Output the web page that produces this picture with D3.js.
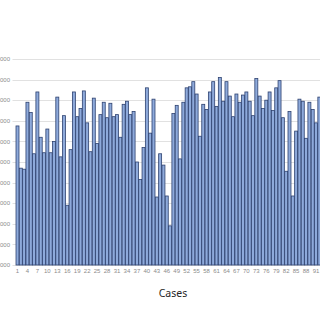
<!DOCTYPE html>
<html>
<head>
<meta charset="utf-8">
<script src="https://cdn.jsdelivr.net/npm/d3@7"></script>
<style>
  html, body { margin: 0; padding: 0; background: #ffffff; overflow: hidden; }
  svg { display: block; }
</style>
</head>
<body>
<svg id="chart" width="320" height="320"></svg>
<script>
// ---- data ----
const cases = d3.range(1, 93);
const values = [
  0.675, 0.47, 0.465, 0.79, 0.74, 0.54, 0.84, 0.62, 0.545, 0.66,
  0.545, 0.60, 0.815, 0.525, 0.725, 0.29, 0.56, 0.84, 0.72, 0.76,
  0.845, 0.69, 0.55, 0.81, 0.59, 0.73, 0.79, 0.715, 0.785, 0.72,
  0.73, 0.62, 0.78, 0.795, 0.73, 0.745, 0.50, 0.415, 0.57, 0.86,
  0.64, 0.805, 0.33, 0.54, 0.485, 0.335, 0.19, 0.735, 0.775, 0.515,
  0.79, 0.86, 0.865, 0.89, 0.83, 0.625, 0.78, 0.755, 0.84, 0.89,
  0.77, 0.91, 0.795, 0.89, 0.82, 0.72, 0.83, 0.79, 0.825, 0.84,
  0.795, 0.725, 0.905, 0.82, 0.76, 0.80, 0.84, 0.75, 0.86, 0.895,
  0.715, 0.455, 0.745, 0.335, 0.65, 0.805, 0.795, 0.615, 0.79, 0.755,
  0.69, 0.815
];
const yTicks = [0, 0.1, 0.2, 0.3, 0.4, 0.5, 0.6, 0.7, 0.8, 0.9, 1.0];
const xTickLabels = cases.filter(c => (c - 1) % 3 === 0);
const axisTitle = "Cases";

// ---- layout ----
const svg = d3.select("#chart");
const step = 3.317;
const x0 = 15.84;
const x = d3.scaleBand()
  .domain(cases)
  .range([x0, x0 + step * cases.length])
  .paddingInner(0.1)
  .paddingOuter(0.05);
const y = d3.scaleLinear().domain([0, 1]).range([265, 59]);

// gridlines
svg.append("g")
  .selectAll("line")
  .data(yTicks)
  .join("line")
  .attr("x1", 12.5)
  .attr("x2", 330)
  .attr("y1", d => Math.round(y(d)) + 0.5)
  .attr("y2", d => Math.round(y(d)) + 0.5)
  .attr("stroke", "#d9d9d9")
  .attr("stroke-width", 0.8);

// y labels
svg.append("g")
  .selectAll("text")
  .data(yTicks)
  .join("text")
  .attr("x", 10)
  .attr("y", d => y(d))
  .attr("dy", "0.35em")
  .attr("text-anchor", "end")
  .attr("font-family", "Liberation Sans, Arial, sans-serif")
  .attr("font-size", 6)
  .attr("fill", "#8c8c8c")
  .text(d => d3.format(".4f")(d));

// bars
svg.append("g")
  .selectAll("rect")
  .data(cases)
  .join("rect")
  .attr("x", d => x(d))
  .attr("width", x.bandwidth())
  .attr("y", (d, i) => y(values[i]))
  .attr("height", (d, i) => y(0) - y(values[i]))
  .attr("fill", "#8eaadb")
  .attr("stroke", "#2e4270")
  .attr("stroke-width", 0.8);

// x labels
svg.append("g")
  .selectAll("text")
  .data(xTickLabels)
  .join("text")
  .attr("x", d => x(d) + x.bandwidth() / 2)
  .attr("y", 271)
  .attr("dy", "0.35em")
  .attr("text-anchor", "middle")
  .attr("font-family", "Liberation Sans, Arial, sans-serif")
  .attr("font-size", 6)
  .attr("fill", "#8c8c8c")
  .text(d => d);

// axis title
svg.append("text")
  .attr("x", 173)
  .attr("y", 293)
  .attr("dy", "0.35em")
  .attr("text-anchor", "middle")
  .attr("font-family", "Noto Sans, Liberation Sans, sans-serif")
  .attr("font-size", 10.5)
  .attr("fill", "#262626")
  .text(axisTitle);
</script>
</body>
</html>
